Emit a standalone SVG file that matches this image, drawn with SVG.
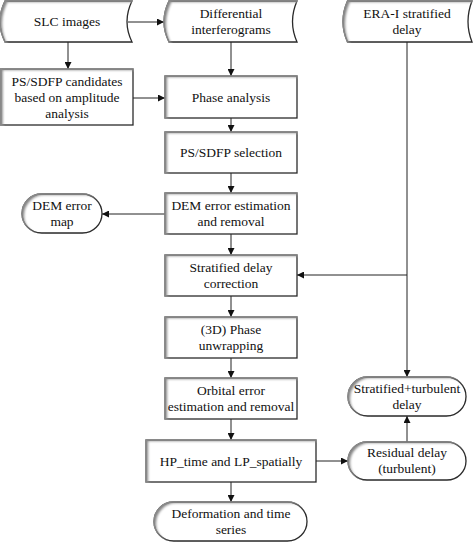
<svg xmlns="http://www.w3.org/2000/svg" width="474" height="544" viewBox="0 0 474 544">
<style>
.s{fill:#fff;stroke:#2a2a2a;stroke-width:1.3;filter:url(#sh)}
text{font-family:'Liberation Serif','Times New Roman',Times,'DejaVu Serif',serif;font-size:13.5px;fill:#111;text-anchor:middle}
.c{fill:none;stroke:#222;stroke-width:1}
</style>
<defs>
<filter id="sh" x="-5%" y="-10%" width="110%" height="120%">
<feFlood flood-color="#8a8a8a" result="c"/>
<feComposite in="c" in2="SourceAlpha" operator="out" result="inv"/>
<feOffset in="inv" dx="2.5" dy="1.5" result="off"/>
<feGaussianBlur in="off" stdDeviation="1.1" result="blur"/>
<feComposite in="blur" in2="SourceAlpha" operator="in" result="inner"/>
<feMerge><feMergeNode in="SourceGraphic"/><feMergeNode in="inner"/></feMerge>
</filter>
<marker id="a" viewBox="0 0 10 10" refX="10" refY="5" markerWidth="7" markerHeight="7" markerUnits="userSpaceOnUse" orient="auto">
<path d="M0,0 L10,5 L0,10 Z" fill="#111"/>
</marker>
</defs>

<g id="connectors">
<line class="c" x1="128" y1="22" x2="164" y2="22" marker-end="url(#a)"/>
<line class="c" x1="68" y1="42" x2="68" y2="69" marker-end="url(#a)"/>
<line class="c" x1="231" y1="42" x2="231" y2="76" marker-end="url(#a)"/>
<line class="c" x1="133" y1="98" x2="165" y2="98" marker-end="url(#a)"/>
<line class="c" x1="231" y1="118" x2="231" y2="132" marker-end="url(#a)"/>
<line class="c" x1="231" y1="173" x2="231" y2="193" marker-end="url(#a)"/>
<line class="c" x1="165" y1="214" x2="102" y2="214" marker-end="url(#a)"/>
<line class="c" x1="231" y1="234" x2="231" y2="255" marker-end="url(#a)"/>
<line class="c" x1="407" y1="42" x2="407" y2="377" marker-end="url(#a)"/>
<line class="c" x1="407" y1="275" x2="297" y2="275" marker-end="url(#a)"/>
<line class="c" x1="231" y1="296" x2="231" y2="317" marker-end="url(#a)"/>
<line class="c" x1="231" y1="358" x2="231" y2="378" marker-end="url(#a)"/>
<line class="c" x1="231" y1="419" x2="231" y2="440" marker-end="url(#a)"/>
<line class="c" x1="316" y1="461" x2="348" y2="461" marker-end="url(#a)"/>
<line class="c" x1="407" y1="442" x2="407" y2="416" marker-end="url(#a)"/>
<line class="c" x1="231" y1="482" x2="231" y2="502" marker-end="url(#a)"/>
</g>

<g id="slc">
<path class="s" d="M5,1 H132 Q122,21.5 132,42 H5 Q-5,21.5 5,1 Z"/>
<text x="67" y="26">SLC images</text>
</g>
<g id="diff">
<path class="s" d="M169,1 H297 Q288,21.5 297,42 H169 Q159,21.5 169,1 Z"/>
<text x="231" y="17.5">Differential</text>
<text x="231" y="33.5">interferograms</text>
</g>
<g id="era">
<path class="s" d="M347.5,1 H472 Q464,21.5 472,42 H347.5 Q338.5,21.5 347.5,1 Z"/>
<text x="407" y="17.5">ERA-I stratified</text>
<text x="407" y="33.5">delay</text>
</g>
<g id="candidates">
<rect class="s" x="0.7" y="69" width="132.3" height="56"/>
<text x="67" y="85.5">PS/SDFP candidates</text>
<text x="67" y="101.5">based on amplitude</text>
<text x="67" y="117.5">analysis</text>
</g>
<g id="phase">
<rect class="s" x="165" y="76" width="132" height="42"/>
<text x="231" y="101.5">Phase analysis</text>
</g>
<g id="selection">
<rect class="s" x="165" y="132" width="132" height="41"/>
<text x="231" y="157">PS/SDFP selection</text>
</g>
<g id="dem">
<rect class="s" x="165" y="193" width="132" height="41"/>
<text x="231" y="210">DEM error estimation</text>
<text x="231" y="226">and removal</text>
</g>
<g id="demmap">
<rect class="s" x="22" y="194" width="80" height="39" rx="19.5" ry="19.5"/>
<text x="62" y="210">DEM error</text>
<text x="62" y="226">map</text>
</g>
<g id="strat">
<rect class="s" x="165" y="255" width="132" height="41"/>
<text x="231" y="272">Stratified delay</text>
<text x="231" y="288">correction</text>
</g>
<g id="unwrap">
<rect class="s" x="165" y="317" width="132" height="41"/>
<text x="231" y="334">(3D) Phase</text>
<text x="231" y="350">unwrapping</text>
</g>
<g id="orbital">
<rect class="s" x="165" y="378" width="132" height="41"/>
<text x="231" y="395">Orbital error</text>
<text x="231" y="411">estimation and removal</text>
</g>
<g id="hp">
<rect class="s" x="146" y="440" width="170" height="42"/>
<text x="231" y="465.5">HP_time and LP_spatially</text>
</g>
<g id="deformation">
<rect class="s" x="154" y="502" width="153" height="39" rx="19.5" ry="19.5"/>
<text x="231" y="518">Deformation and time</text>
<text x="231" y="534">series</text>
</g>
<g id="residual">
<rect class="s" x="348" y="442" width="118" height="38" rx="19" ry="19"/>
<text x="407" y="457">Residual delay</text>
<text x="407" y="473">(turbulent)</text>
</g>
<g id="stratturb">
<rect class="s" x="348" y="377" width="118" height="39" rx="19.5" ry="19.5"/>
<text x="407" y="392.5">Stratified+turbulent</text>
<text x="407" y="408.5">delay</text>
</g>
</svg>
